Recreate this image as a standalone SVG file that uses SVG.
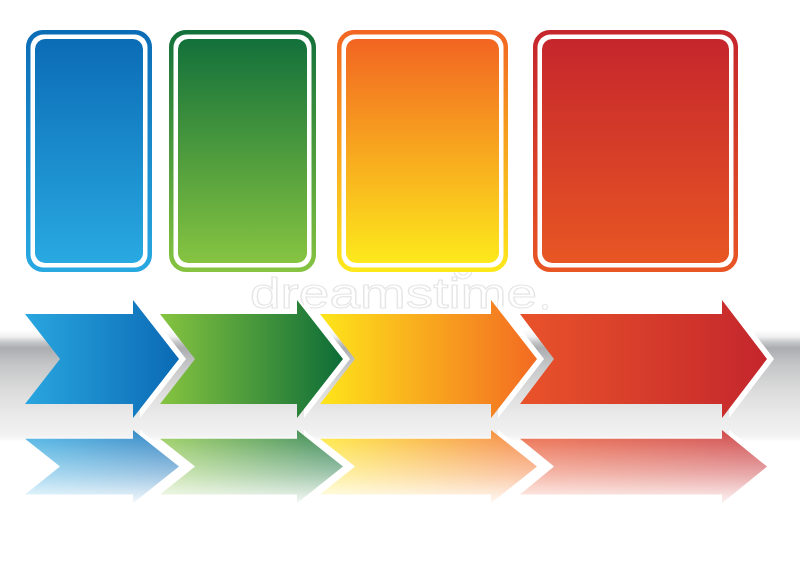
<svg xmlns="http://www.w3.org/2000/svg" xmlns:xlink="http://www.w3.org/1999/xlink" width="800" height="572" viewBox="0 0 800 572">
<style>
.ring{fill:#ffffff}
.wcopy{fill:#ffffff}
.wm{fill:none;stroke:#e6e6e6;stroke-width:1.1}
</style>
<defs>
<linearGradient id="bBlue" x1="0" y1="0" x2="0" y2="1"><stop offset="0" stop-color="#0b6cb6"/><stop offset="1" stop-color="#29a9e1"/></linearGradient>
<linearGradient id="bGreen" x1="0" y1="0" x2="0" y2="1"><stop offset="0" stop-color="#12703a"/><stop offset="1" stop-color="#86c441"/></linearGradient>
<linearGradient id="bOrange" x1="0" y1="0" x2="0" y2="1"><stop offset="0" stop-color="#f26522"/><stop offset="1" stop-color="#fde91c"/></linearGradient>
<linearGradient id="bRed" x1="0" y1="0" x2="0" y2="1"><stop offset="0" stop-color="#c5262c"/><stop offset="1" stop-color="#e85624"/></linearGradient>
<linearGradient id="aBlue" x1="0" y1="0" x2="1" y2="0"><stop offset="0" stop-color="#29a6df"/><stop offset="1" stop-color="#0b6ab5"/></linearGradient>
<linearGradient id="aGreen" x1="0" y1="0" x2="1" y2="0"><stop offset="0" stop-color="#86c440"/><stop offset="1" stop-color="#0d6d37"/></linearGradient>
<linearGradient id="aOrange" x1="0" y1="0" x2="1" y2="0"><stop offset="0" stop-color="#fee51a"/><stop offset="1" stop-color="#f36a22"/></linearGradient>
<linearGradient id="aRed" x1="0" y1="0" x2="1" y2="0"><stop offset="0" stop-color="#e9532a"/><stop offset="1" stop-color="#c4262c"/></linearGradient>
<linearGradient id="band" gradientUnits="userSpaceOnUse" x1="0" y1="330" x2="0" y2="442">
<stop offset="0" stop-color="#ffffff"/>
<stop offset="0.06" stop-color="#f0f0f0"/>
<stop offset="0.11" stop-color="#c4c6c8"/>
<stop offset="0.16" stop-color="#abadb0"/>
<stop offset="0.32" stop-color="#c6c7c9"/>
<stop offset="0.55" stop-color="#dcdcdc"/>
<stop offset="0.78" stop-color="#ebebeb"/>
<stop offset="0.94" stop-color="#f2f2f2"/>
<stop offset="1" stop-color="#ffffff"/>
</linearGradient>
<linearGradient id="fadeG" gradientUnits="userSpaceOnUse" x1="0" y1="430" x2="0" y2="504">
<stop offset="0" stop-color="#ffffff" stop-opacity="0.85"/>
<stop offset="0.6" stop-color="#ffffff" stop-opacity="0.4"/>
<stop offset="1" stop-color="#ffffff" stop-opacity="0.04"/>
</linearGradient>
<mask id="fade" maskUnits="userSpaceOnUse" x="0" y="420" width="800" height="100">
<rect x="0" y="420" width="800" height="100" fill="url(#fadeG)"/>
</mask>
<polygon id="sBlue" points="25,314 133,314 133,300 179,359 133,418 133,404 25,404 60,359"/>
<polygon id="sGreen" points="160,314 297,314 297,300 343,359 297,418 297,404 160,404 195,359"/>
<polygon id="sOrange" points="320,314 491,314 491,300 537,359 491,418 491,404 320,404 355,359"/>
<polygon id="sRed" points="520,314 722,314 722,300 767,359 722,418 722,404 520,404 554,359"/>
</defs>

<rect x="0" y="0" width="800" height="572" fill="#ffffff"/>
<rect x="0" y="330" width="800" height="112" fill="url(#band)"/>

<g id="watermark">
<text x="250" y="308" font-family="Liberation Sans, Arial, sans-serif" font-size="42" textLength="287" lengthAdjust="spacingAndGlyphs" class="wm">dreamstime</text>
<circle cx="545" cy="307" r="2.5" class="wm"/>
<circle cx="463" cy="270" r="9" class="wm"/>
<circle cx="463" cy="270" r="5" class="wm"/>
</g>

<g id="box-blue">
<rect x="26" y="30" width="126" height="242" rx="17" fill="url(#bBlue)"/>
<rect x="30.5" y="34.5" width="117" height="233" rx="13" class="ring"/>
<rect x="35" y="39" width="108" height="224" rx="10" fill="url(#bBlue)"/>
</g>
<g id="box-green">
<rect x="169" y="30" width="147" height="242" rx="17" fill="url(#bGreen)"/>
<rect x="173.5" y="34.5" width="138" height="233" rx="13" class="ring"/>
<rect x="178" y="39" width="129" height="224" rx="10" fill="url(#bGreen)"/>
</g>
<g id="box-orange">
<rect x="337" y="30" width="171" height="242" rx="17" fill="url(#bOrange)"/>
<rect x="341.5" y="34.5" width="162" height="233" rx="13" class="ring"/>
<rect x="346" y="39" width="153" height="224" rx="10" fill="url(#bOrange)"/>
</g>
<g id="box-red">
<rect x="533" y="30" width="205" height="242" rx="17" fill="url(#bRed)"/>
<rect x="537.5" y="34.5" width="196" height="233" rx="13" class="ring"/>
<rect x="542" y="39" width="187" height="224" rx="10" fill="url(#bRed)"/>
</g>

<g id="arrows">
<g id="arrow-blue">
<use xlink:href="#sBlue" href="#sBlue" class="wcopy" transform="translate(7,0)"/>
<use xlink:href="#sBlue" href="#sBlue" fill="url(#aBlue)"/>
<g transform="translate(0,430) scale(1,-0.62) translate(0,-418)">
<use xlink:href="#sBlue" href="#sBlue" class="wcopy" transform="translate(7,0)"/>
</g>
<g mask="url(#fade)"><g transform="translate(0,430) scale(1,-0.62) translate(0,-418)">
<use xlink:href="#sBlue" href="#sBlue" fill="url(#aBlue)"/>
</g></g>
</g>
<g id="arrow-green">
<use xlink:href="#sGreen" href="#sGreen" class="wcopy" transform="translate(7,0)"/>
<use xlink:href="#sGreen" href="#sGreen" fill="url(#aGreen)"/>
<g transform="translate(0,430) scale(1,-0.62) translate(0,-418)">
<use xlink:href="#sGreen" href="#sGreen" class="wcopy" transform="translate(7,0)"/>
</g>
<g mask="url(#fade)"><g transform="translate(0,430) scale(1,-0.62) translate(0,-418)">
<use xlink:href="#sGreen" href="#sGreen" fill="url(#aGreen)"/>
</g></g>
</g>
<g id="arrow-orange">
<use xlink:href="#sOrange" href="#sOrange" class="wcopy" transform="translate(7,0)"/>
<use xlink:href="#sOrange" href="#sOrange" fill="url(#aOrange)"/>
<g transform="translate(0,430) scale(1,-0.62) translate(0,-418)">
<use xlink:href="#sOrange" href="#sOrange" class="wcopy" transform="translate(7,0)"/>
</g>
<g mask="url(#fade)"><g transform="translate(0,430) scale(1,-0.62) translate(0,-418)">
<use xlink:href="#sOrange" href="#sOrange" fill="url(#aOrange)"/>
</g></g>
</g>
<g id="arrow-red">
<use xlink:href="#sRed" href="#sRed" class="wcopy" transform="translate(7,0)"/>
<use xlink:href="#sRed" href="#sRed" fill="url(#aRed)"/>
<g transform="translate(0,430) scale(1,-0.62) translate(0,-418)">
<use xlink:href="#sRed" href="#sRed" class="wcopy" transform="translate(7,0)"/>
</g>
<g mask="url(#fade)"><g transform="translate(0,430) scale(1,-0.62) translate(0,-418)">
<use xlink:href="#sRed" href="#sRed" fill="url(#aRed)"/>
</g></g>
</g>
</g>
</svg>
